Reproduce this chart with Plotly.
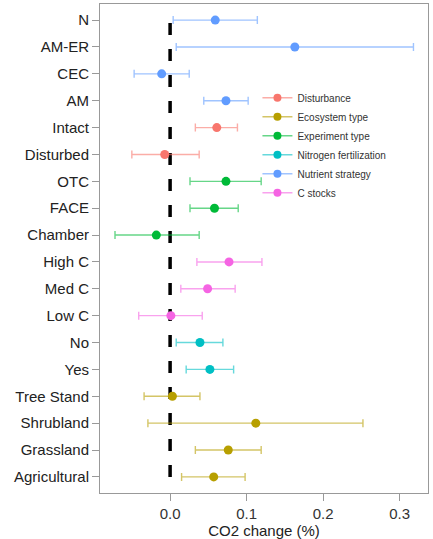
import plotly.graph_objects as go

# categories top to bottom
categories = ["N", "AM-ER", "CEC", "AM", "Intact", "Disturbed", "OTC", "FACE",
              "Chamber", "High C", "Med C", "Low C", "No", "Yes",
              "Tree Stand", "Shrubland", "Grassland", "Agricultural"]
groups = ["Nutrient strategy", "Nutrient strategy", "Nutrient strategy", "Nutrient strategy",
          "Disturbance", "Disturbance",
          "Experiment type", "Experiment type", "Experiment type",
          "C stocks", "C stocks", "C stocks",
          "Nitrogen fertilization", "Nitrogen fertilization",
          "Ecosystem type", "Ecosystem type", "Ecosystem type", "Ecosystem type"]
estimate = [0.059, 0.163, -0.011, 0.073, 0.061, -0.007, 0.073, 0.058,
            -0.018, 0.077, 0.049, 0.001, 0.039, 0.052,
            0.003, 0.112, 0.076, 0.057]
ci_low = [0.004, 0.008, -0.047, 0.044, 0.033, -0.050, 0.026, 0.026,
          -0.072, 0.035, 0.014, -0.041, 0.008, 0.021,
          -0.034, -0.029, 0.033, 0.015]
ci_high = [0.114, 0.318, 0.025, 0.102, 0.088, 0.038, 0.119, 0.089,
           0.038, 0.120, 0.085, 0.042, 0.069, 0.083,
           0.039, 0.252, 0.119, 0.098]

legend_order = ["Disturbance", "Ecosystem type", "Experiment type",
                "Nitrogen fertilization", "Nutrient strategy", "C stocks"]
colors = {"Disturbance": "#F8766D", "Ecosystem type": "#B79F00",
          "Experiment type": "#00BA38", "Nitrogen fertilization": "#00BFC4",
          "Nutrient strategy": "#619CFF", "C stocks": "#F564E3"}
faded = {"Disturbance": "rgba(248,118,109,0.6)", "Ecosystem type": "rgba(183,159,0,0.6)",
         "Experiment type": "rgba(0,186,56,0.6)", "Nitrogen fertilization": "rgba(0,191,196,0.6)",
         "Nutrient strategy": "rgba(97,156,255,0.6)", "C stocks": "rgba(245,100,227,0.6)"}

fig = go.Figure()

# zero reference line
fig.add_trace(go.Scatter(x=[0, 0], y=[categories[-1], categories[0]], mode="lines",
                         line=dict(color="black", width=3.5, dash="12px,14px"),
                         showlegend=False, hoverinfo="skip"))

for g in legend_order:
    idx = [i for i, gg in enumerate(groups) if gg == g]
    xs = [estimate[i] for i in idx]
    fig.add_trace(go.Scatter(
        x=xs, y=[categories[i] for i in idx], mode="markers",
        marker=dict(color=colors[g], size=9),
        error_x=dict(type="data", symmetric=False,
                     array=[ci_high[i] - estimate[i] for i in idx],
                     arrayminus=[estimate[i] - ci_low[i] for i in idx],
                     color=faded[g], thickness=1.4, width=4),
        showlegend=False))

# legend keys
for g in legend_order:
    fig.add_trace(go.Scatter(x=[None], y=[None], mode="lines+markers", name=g,
                             marker=dict(color=colors[g], size=8),
                             line=dict(color=faded[g], width=1.4)))

fig.update_layout(
    width=433, height=539,
    margin=dict(l=100, r=5, t=4, b=46),
    plot_bgcolor="white", paper_bgcolor="white",
    font=dict(family="Liberation Sans, Arial", color="#222"),
    legend=dict(x=0.48, y=0.838, xanchor="left", yanchor="top",
                font=dict(size=10, color="#333"), bgcolor="rgba(0,0,0,0)",
                itemwidth=30, tracegroupgap=0),
)
fig.update_xaxes(range=[-0.0916, 0.337], tickvals=[0.0, 0.1, 0.2, 0.3],
                 ticktext=["0.0", "0.1", "0.2", "0.3"], automargin=False,
                 showgrid=False, zeroline=False, showline=True, mirror=True,
                 linecolor="#999", linewidth=1, ticks="outside", ticklen=7,
                 tickcolor="#999", tickfont=dict(size=15, color="#333"),
                 title=dict(text="CO2 change (%)", font=dict(size=15, color="#222"), standoff=0))
fig.update_yaxes(categoryorder="array", categoryarray=categories[::-1], automargin=False,
                 range=[-0.6, 17.6], showgrid=False, zeroline=False,
                 showline=True, mirror=True, linecolor="#999", linewidth=1,
                 ticks="outside", ticklen=7, tickcolor="#999",
                 tickfont=dict(size=15, color="#222"))

# drop the browser's default page margin so the figure sits at the window corner
fig.write_html("out.html", config={"displayModeBar": False},
               post_script="document.body.style.margin = '0';")
